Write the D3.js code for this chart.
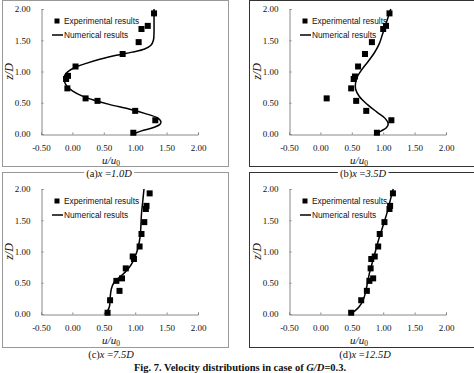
<!DOCTYPE html>
<html>
<head>
<meta charset="utf-8">
<script src="https://cdn.jsdelivr.net/npm/d3@7"></script>
<style>
  body { margin: 0; background: #fff; }
  svg { display: block; }
  .tick text { font-family: 'Liberation Serif', serif; font-size: 9px; fill: #111; }
  .axis path, .axis line { stroke: #888; }
</style>
</head>
<body>
<div id="container"></div>
<script>
'use strict';

//Axis ticks
const xTicks = [-0.5, 0, 0.5, 1, 1.5, 2];
const yTicks = [0, 0.5, 1, 1.5, 2];

//Experimental points [u/u0, z/D]
const expA = [[1.30, 1.93], [1.20, 1.73], [1.10, 1.68], [1.055, 1.47], [0.80, 1.28], [0.05, 1.08],
  [-0.07, 0.93], [-0.10, 0.88], [-0.08, 0.73], [0.21, 0.57], [0.40, 0.53], [1.00, 0.37], [1.32, 0.22], [0.97, 0.02]];
const expB = [[1.10, 1.93], [1.045, 1.73], [1.00, 1.68], [0.82, 1.47], [0.71, 1.28], [0.60, 1.08],
  [0.55, 0.92], [0.53, 0.88], [0.49, 0.73], [0.10, 0.57], [0.57, 0.53], [0.73, 0.37], [1.13, 0.22], [0.90, 0.02]];
const expC = [[1.23, 1.93], [1.18, 1.73], [1.17, 1.68], [1.145, 1.47], [1.10, 1.28], [1.07, 1.08],
  [0.96, 0.92], [0.98, 0.88], [0.85, 0.73], [0.79, 0.57], [0.70, 0.53], [0.75, 0.37], [0.60, 0.22], [0.56, 0.02]];
const expD = [[1.155, 1.93], [1.11, 1.73], [1.10, 1.68], [1.02, 1.47], [0.945, 1.28], [0.92, 1.08],
  [0.865, 0.92], [0.81, 0.88], [0.80, 0.73], [0.84, 0.57], [0.78, 0.53], [0.74, 0.37], [0.65, 0.22], [0.49, 0.02]];

//Numerical results [u/u0, z/D]
const numA = [[0.97, 0.00], [1.10, 0.05], [1.28, 0.10], [1.39, 0.15], [1.41, 0.20], [1.35, 0.26], [1.15, 0.33],
  [0.90, 0.40], [0.60, 0.47], [0.35, 0.54], [0.15, 0.61], [0.00, 0.69], [-0.09, 0.77], [-0.13, 0.85],
  [-0.13, 0.92], [-0.08, 0.99], [0.03, 1.06], [0.22, 1.13], [0.45, 1.20], [0.70, 1.26], [0.95, 1.31],
  [1.15, 1.36], [1.25, 1.42], [1.29, 1.50], [1.30, 1.65], [1.30, 1.80], [1.30, 2.00]];
const numB = [[0.88, 0.00], [0.97, 0.05], [1.05, 0.10], [1.08, 0.16], [1.03, 0.25], [0.90, 0.35], [0.75, 0.47],
  [0.62, 0.60], [0.56, 0.72], [0.56, 0.82], [0.59, 0.92], [0.66, 1.03], [0.76, 1.16], [0.86, 1.30],
  [0.94, 1.45], [0.99, 1.60], [1.04, 1.75], [1.12, 2.00]];
const numC = [[0.52, 0.00], [0.56, 0.05], [0.59, 0.12], [0.60, 0.25], [0.62, 0.40], [0.66, 0.50], [0.74, 0.58],
  [0.84, 0.67], [0.93, 0.78], [1.00, 0.92], [1.05, 1.08], [1.08, 1.25], [1.09, 1.40], [1.10, 1.60],
  [1.12, 1.80], [1.14, 2.00]];
const numD = [[0.47, 0.00], [0.55, 0.05], [0.62, 0.12], [0.68, 0.22], [0.72, 0.35], [0.75, 0.50], [0.78, 0.65],
  [0.82, 0.80], [0.87, 0.98], [0.93, 1.20], [1.00, 1.42], [1.07, 1.65], [1.12, 1.85], [1.16, 2.00]];

//Captions
const captionLetters = ['(a)', '(b)', '(c)', '(d)'];
const captionValues = ['1.0D', '3.5D', '7.5D', '12.5D'];
const legendLabels = ['Experimental results', 'Numerical results'];

//Sizing
const VIZ = { WIDTH: 474, HEIGHT: 373 };
const PANEL = {
  LEFT: 41, RIGHT: 198, TOP: 9, BOTTOM: 134,
  COL: [0, 248], ROW: [0, 180],
};
const FRAME = {
  X: [[2, 228], [249, 480]],
  Y: [[0, 166], [172, 347]],
  COLOR: ['#999', '#333'],
};
const CAPTION = { X: [109, 363, 111, 365], Y: [177, 177, 358, 358] };

const svg = d3.select('#container')
  .append('svg')
  .attr('width', VIZ.WIDTH)
  .attr('height', VIZ.HEIGHT)
  .attr('viewBox', `0 0 ${VIZ.WIDTH} ${VIZ.HEIGHT}`);

const x = d3.scaleLinear().domain([-0.5, 2]).range([PANEL.LEFT, PANEL.RIGHT]);
const y = d3.scaleLinear().domain([0, 2]).range([PANEL.BOTTOM, PANEL.TOP]);
const fmt = d => d3.format('.2f')(d).replace('\u2212', '-');

const panels = [
  { exp: expA, num: numA, col: 0, row: 0 },
  { exp: expB, num: numB, col: 1, row: 0 },
  { exp: expC, num: numC, col: 0, row: 1 },
  { exp: expD, num: numD, col: 1, row: 1 },
];

//Frames first, so captions can sit above them
panels.forEach(p => {
  svg.append('rect')
    .attr('x', FRAME.X[p.col][0] + 0.5)
    .attr('y', FRAME.Y[p.row][0] + 0.5)
    .attr('width', FRAME.X[p.col][1] - FRAME.X[p.col][0])
    .attr('height', FRAME.Y[p.row][1] - FRAME.Y[p.row][0])
    .attr('fill', 'none')
    .attr('stroke', FRAME.COLOR[p.col])
    .attr('stroke-width', 1);
});

panels.forEach((p, i) => drawPanel(p, i));

//Figure caption
const fig = svg.append('text')
  .attr('x', 240)
  .attr('y', 371)
  .attr('text-anchor', 'middle')
  .style('font-family', "'Liberation Serif', serif")
  .style('font-weight', 'bold')
  .style('font-size', '10.5px')
  .attr('fill', '#111');
fig.append('tspan').text('Fig. 7. Velocity distributions in case of ');
fig.append('tspan').style('font-style', 'italic').text('G/D');
fig.append('tspan').text('=0.3.');

function drawPanel(p, i) {
  const g = svg.append('g')
    .attr('transform', `translate(${PANEL.COL[p.col]} ${PANEL.ROW[p.row]})`);

  //Axes
  g.append('g')
    .attr('class', 'axis')
    .attr('transform', `translate(0 ${PANEL.BOTTOM + 0.5})`)
    .call(d3.axisBottom(x).tickValues(xTicks).tickSize(-2).tickSizeOuter(-2).tickPadding(10)
      .tickFormat(fmt));
  g.append('g')
    .attr('class', 'axis')
    .attr('transform', `translate(${PANEL.LEFT + 0.5} 0)`)
    .call(d3.axisLeft(y).tickValues(yTicks).tickSize(-2).tickSizeOuter(-2).tickPadding(11)
      .tickFormat(fmt));

  //Axis titles
  g.append('text')
    .attr('transform', `translate(13 ${(PANEL.TOP + PANEL.BOTTOM) / 2}) rotate(-90)`)
    .attr('text-anchor', 'middle')
    .style('font-family', "'Liberation Serif', serif")
    .style('font-style', 'italic')
    .style('font-size', '12px')
    .attr('fill', '#111')
    .text('z/D');
  const xt = g.append('text')
    .attr('x', 111)
    .attr('y', 163.5)
    .attr('text-anchor', 'middle')
    .style('font-family', "'Liberation Serif', serif")
    .style('font-style', 'italic')
    .style('font-size', '11px')
    .attr('fill', '#111');
  xt.append('tspan').text('u/u');
  xt.append('tspan').attr('dy', 2).style('font-size', '7.5px').style('font-style', 'normal').text('0');

  //Numerical curve
  g.append('path')
    .datum(p.num)
    .attr('fill', 'none')
    .attr('stroke', '#000')
    .attr('stroke-width', 1.5)
    .attr('d', d3.line().x(d => x(d[0])).y(d => y(d[1])).curve(d3.curveCatmullRom));

  //Experimental points
  const size = 6;
  g.selectAll('rect.exp')
    .data(p.exp)
    .enter().append('rect')
    .attr('class', 'exp')
    .attr('x', d => x(d[0]) - size / 2)
    .attr('y', d => y(d[1]) - size / 2)
    .attr('width', size)
    .attr('height', size)
    .attr('fill', '#000');

  //Legend
  const lg = g.append('g').attr('transform', `translate(${PANEL.LEFT} ${PANEL.TOP})`);
  lg.append('rect').attr('x', 16 - 2.5).attr('y', 12 - 2.5).attr('width', 5).attr('height', 5).attr('fill', '#000');
  lg.append('line').attr('x1', 11).attr('x2', 22).attr('y1', 26).attr('y2', 26)
    .attr('stroke', '#000').attr('stroke-width', 1.5);
  legendLabels.forEach((label, k) => {
    lg.append('text')
      .attr('x', 23)
      .attr('y', 12 + k * 14 + 3)
      .style('font-family', "'Liberation Sans', sans-serif")
      .style('font-size', '8.3px')
      .attr('fill', '#111')
      .text(label);
  });

  //Caption with white backing over the frame line
  const cap = svg.append('text')
    .attr('x', CAPTION.X[i])
    .attr('y', CAPTION.Y[i])
    .attr('text-anchor', 'middle')
    .style('font-family', "'Liberation Serif', serif")
    .style('font-size', '10.5px')
    .attr('fill', '#111');
  cap.append('tspan').text(captionLetters[i]);
  cap.append('tspan').style('font-style', 'italic').text('x');
  cap.append('tspan').text(' =');
  cap.append('tspan').style('font-style', 'italic').text(captionValues[i]);
  const bb = cap.node().getBBox();
  svg.insert('rect', () => cap.node())
    .attr('x', bb.x - 2)
    .attr('y', bb.y)
    .attr('width', bb.width + 4)
    .attr('height', bb.height)
    .attr('fill', '#fff');
}
</script>
</body>
</html>
